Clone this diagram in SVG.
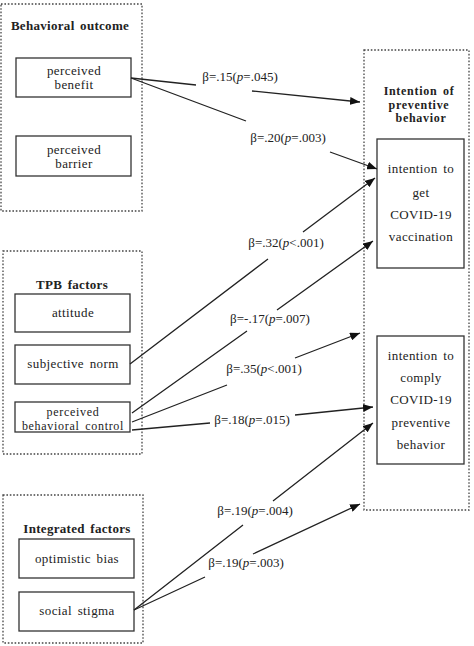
<svg xmlns="http://www.w3.org/2000/svg" width="474" height="646" viewBox="0 0 474 646">
<style>
.grp{fill:none;stroke:#444;stroke-width:1.3;stroke-dasharray:1.6,1.8}
.box{fill:#fff;stroke:#333;stroke-width:1.3}
.t{font-family:"Liberation Serif","Times New Roman",serif;font-size:13px;fill:#222;text-anchor:middle;letter-spacing:0.4px;word-spacing:2px}
.h{font-family:"Liberation Serif","Times New Roman",serif;font-size:13px;font-weight:bold;fill:#222;text-anchor:middle;letter-spacing:0.3px;word-spacing:2px}
.hs{font-family:"Liberation Serif","Times New Roman",serif;font-size:12px;font-weight:bold;fill:#222;text-anchor:middle;letter-spacing:0.7px;word-spacing:2px}
.ts{font-family:"Liberation Serif","Times New Roman",serif;font-size:12px;fill:#222;text-anchor:middle;letter-spacing:0.7px;word-spacing:2px}
.l{font-family:"Liberation Serif","Times New Roman",serif;font-size:13px;fill:#222;text-anchor:middle}
.c{fill:none;stroke:#222;stroke-width:1.3;marker-end:url(#ah)}
</style>
<defs>
<marker id="ah" viewBox="0 0 10 8" refX="10" refY="4" markerWidth="10" markerHeight="8" markerUnits="userSpaceOnUse" orient="auto">
<path d="M0,0 L10,4 L0,8 Z" fill="#111"/>
</marker>
</defs>
<rect width="474" height="646" fill="#fff"/>

<g id="group-behavioral-outcome">
<rect class="grp" x="1" y="4" width="141" height="207"/>
<text class="h" x="70" y="30">Behavioral outcome</text>
</g>
<g id="group-tpb">
<rect class="grp" x="3" y="251" width="139" height="203"/>
<text class="h" x="72" y="289">TPB factors</text>
</g>
<g id="group-integrated">
<rect class="grp" x="3" y="495" width="140" height="148"/>
<text class="h" x="77" y="533">Integrated factors</text>
</g>
<g id="group-intention">
<rect class="grp" x="364" y="50" width="105" height="460"/>
<text class="hs" x="419" y="95">Intention of</text>
<text class="hs" x="419" y="108.5">preventive</text>
<text class="hs" x="421" y="122">behavior</text>
</g>

<g id="node-perceived-benefit">
<rect class="box" x="16" y="58" width="115" height="39"/>
<text class="t" x="74" y="75">perceived</text>
<text class="t" x="74" y="89">benefit</text>
</g>
<g id="node-perceived-barrier">
<rect class="box" x="16" y="136" width="115" height="40"/>
<text class="t" x="74" y="154">perceived</text>
<text class="t" x="74" y="168">barrier</text>
</g>
<g id="node-attitude">
<rect class="box" x="15" y="294" width="115" height="38"/>
<text class="t" x="73" y="317">attitude</text>
</g>
<g id="node-subjective-norm">
<rect class="box" x="15" y="345" width="115" height="39"/>
<text class="t" x="73" y="368">subjective norm</text>
</g>
<g id="node-pbc">
<rect class="box" x="15" y="402" width="115" height="30"/>
<text class="ts" x="73" y="416">perceived</text>
<text class="ts" x="73" y="429.5">behavioral control</text>
</g>
<g id="node-optimistic-bias">
<rect class="box" x="19" y="539" width="115" height="39"/>
<text class="t" x="77" y="563">optimistic bias</text>
</g>
<g id="node-social-stigma">
<rect class="box" x="19" y="592" width="115" height="39"/>
<text class="t" x="77" y="615">social stigma</text>
</g>
<g id="node-vaccination">
<rect class="box" x="377" y="139" width="87" height="129"/>
<text class="t" x="421" y="173">intention to</text>
<text class="t" x="421" y="197">get</text>
<text class="t" x="421" y="219">COVID-19</text>
<text class="t" x="421" y="241">vaccination</text>
</g>
<g id="node-comply">
<rect class="box" x="377" y="336" width="87" height="128"/>
<text class="t" x="421" y="360">intention to</text>
<text class="t" x="421" y="382">comply</text>
<text class="t" x="421" y="404">COVID-19</text>
<text class="t" x="421" y="427">preventive</text>
<text class="t" x="421" y="449">behavior</text>
</g>

<g id="connectors">
<path class="c" d="M131,78 L196,85 M252,91 L360,102"/>
<path class="c" d="M131,78 L246,121 M330,152 L377,169"/>
<path class="c" d="M130,364 L268,259 M303,232 L375,178"/>
<path class="c" d="M132,413 L247,331 M277,310 L373,241"/>
<path class="c" d="M132,422 L227,385 M295,358 L360,333"/>
<path class="c" d="M132,430 L210,423 M295,415 L373,407"/>
<path class="c" d="M134,610 L243,525 M273,501 L373,423"/>
<path class="c" d="M134,610 L205,577 M253,554 L360,504"/>
<text class="l" x="240" y="81">β=.15(<tspan font-style="italic">p</tspan>=.045)</text>
<text class="l" x="288" y="142">β=.20(<tspan font-style="italic">p</tspan>=.003)</text>
<text class="l" x="286" y="247">β=.32(<tspan font-style="italic">p</tspan>&lt;.001)</text>
<text class="l" x="270" y="323">β=-.17(<tspan font-style="italic">p</tspan>=.007)</text>
<text class="l" x="264" y="373">β=.35(<tspan font-style="italic">p</tspan>&lt;.001)</text>
<text class="l" x="252" y="424">β=.18(<tspan font-style="italic">p</tspan>=.015)</text>
<text class="l" x="255" y="515">β=.19(<tspan font-style="italic">p</tspan>=.004)</text>
<text class="l" x="246" y="567">β=.19(<tspan font-style="italic">p</tspan>=.003)</text>
</g>
</svg>
